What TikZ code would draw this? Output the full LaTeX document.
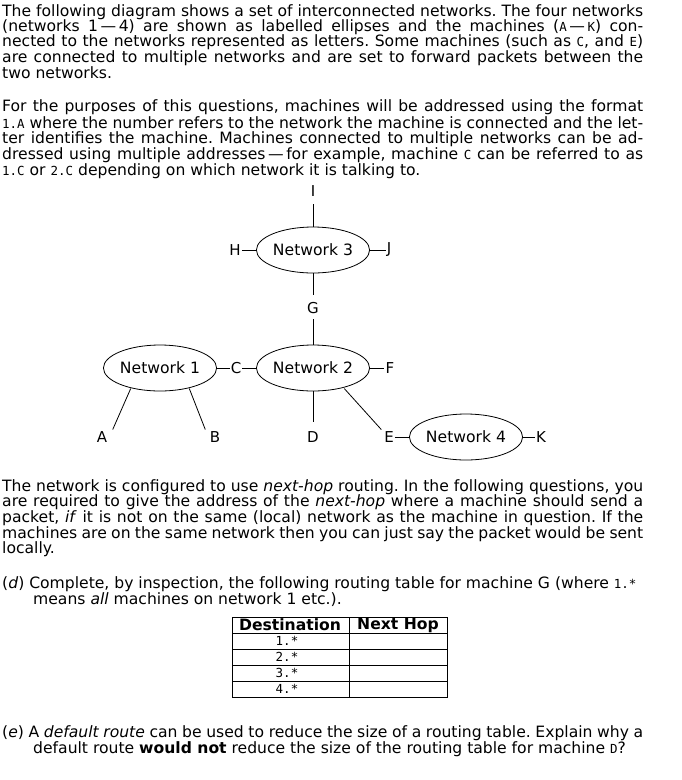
\documentclass[tikz,border=0pt]{standalone}
\usepackage{fontspec}
\setmainfont{DejaVu Sans}
\newfontfamily\mono{DejaVu Sans Mono}[Scale=0.8]
\usetikzlibrary{shapes.geometric}
\newcommand\jline[2]{\hbox to #1pt{#2}}
\newcommand\mm[1]{{\mono #1}}
\frenchspacing
\begin{document}
\begin{tikzpicture}[x=1pt,y=-1pt,
  txt/.style={anchor=west,inner sep=0pt,font=\fontsize{15.6}{17}\selectfont},
  net/.style={draw,ellipse,minimum width=96pt,minimum height=46pt,inner sep=0pt,line width=0.8pt,font=\fontsize{15.6}{17}\selectfont},
  mach/.style={inner sep=1pt,font=\fontsize{15}{17}\selectfont},
  ln/.style={draw,line width=0.8pt}]
\useasboundingbox (0,0) rectangle (682,780);
\fill[white] (0,0) rectangle (682,780);
% paragraph 1
\node[txt] (p1) at (2,12) {\jline{641}{The following diagram shows a set of interconnected networks. The four networks}};
\node[txt] (p2) at (2,27) {\jline{641}{(networks 1\,---\,4) are shown as labelled ellipses and the machines (\mm{A}\,---\,\mm{K}) con-}};
\node[txt] (p3) at (2,42) {\jline{641}{nected to the networks represented as letters. Some machines (such as \mm{C}, and \mm{E})}};
\node[txt] (p4) at (2,58) {\jline{641}{are connected to multiple networks and are set to forward packets between the}};
\node[txt] (p5) at (2,73) {two networks.};
% paragraph 2
\node[txt] (q1) at (2,107) {\jline{641}{For the purposes of this questions, machines will be addressed using the format}};
\node[txt] (q2) at (2,123) {\jline{641}{\mm{1.A} where the number refers to the network the machine is connected and the let-}};
\node[txt] (q3) at (2,139) {\jline{641}{ter identifies the machine. Machines connected to multiple networks can be ad-}};
\node[txt] (q4) at (2,155) {\jline{641}{dressed using multiple addresses\,---\,for example, machine \mm{C} can be referred to as}};
\node[txt] (q5) at (2,171) {\mm{1.C} or \mm{2.C} depending on which network it is talking to.};
% diagram
\node[net] (n3) at (313,250) {Network 3};
\node[net] (n2) at (313,368) {Network 2};
\node[net] (n1) at (160,368) {Network 1};
\node[net] (n4) at (466,437) {Network 4};
\node[mach] (I) at (313,191) {I};
\node[mach] (H) at (235,250) {H};
\node[mach] (J) at (389,250) {J};
\node[mach] (G) at (313,308) {G};
\node[mach] (C) at (236,368) {C};
\node[mach] (F) at (390,368) {F};
\node[mach] (A) at (102,437) {A};
\node[mach] (B) at (215,437) {B};
\node[mach] (D) at (313,437) {D};
\node[mach] (E) at (389,437) {E};
\node[mach] (K) at (541,437) {K};
\coordinate (i1) at (313,204);
\draw[ln] (i1) -- (n3);
\draw[ln] (H) -- (n3);
\draw[ln] (n3) -- (J);
\draw[ln] (n3.south) -- ++(0,22);
\draw[ln] (n2.north) -- ++(0,-26);
\draw[ln] (n1) -- (C) -- (n2);
\draw[ln] (n2) -- (F);
\draw[ln] (n1.south west) ++(11,4) coordinate (a1) -- ++(-18,41);
\draw[ln] (n1.south east) ++(-11,4) coordinate (b1) -- ++(16,41);
\draw[ln] (n2.south) -- ++(0,31);
\draw[ln] (n2.south east) ++(-9,4) -- ++(37,41);
\draw[ln] (E) -- (n4);
\draw[ln] (n4) -- (K);
% paragraph 3
\node[txt] (r1) at (2,487) {\jline{641}{The network is configured to use \emph{next-hop} routing. In the following questions, you}};
\node[txt] (r2) at (2,502) {\jline{641}{are required to give the address of the \emph{next-hop} where a machine should send a}};
\node[txt] (r3) at (2,518) {\jline{641}{packet, \emph{if} it is not on the same (local) network as the machine in question. If the}};
\node[txt] (r4) at (2,534) {\jline{641}{machines are on the same network then you can just say the packet would be sent}};
\node[txt] (r5) at (2,549) {locally.};
% (d)
\node[txt] (d1) at (2,584) {(\emph{d}) Complete, by inspection, the following routing table for machine G (where \mm{1.*}};
\node[txt] (d2) at (33,600) {means \emph{all} machines on network 1 etc.).};
% table
\draw[line width=0.9pt] (232,617) rectangle (447,697);
\foreach \yy in {633,649,665,681} \draw[line width=0.9pt] (232,\yy) -- (447,\yy);
\draw[line width=0.9pt] (349,617) -- (349,697);
\node[font=\fontsize{15.6}{17}\selectfont\bfseries,inner sep=0pt] (h1) at (290,625) {Destination};
\node[font=\fontsize{15.6}{17}\selectfont\bfseries,inner sep=0pt] (h2) at (398,625) {Next Hop};
\node[inner sep=0pt,font=\fontsize{15.6}{17}\selectfont] (t1) at (287,641) {\mm{1.*}};
\node[inner sep=0pt,font=\fontsize{15.6}{17}\selectfont] (t2) at (287,657) {\mm{2.*}};
\node[inner sep=0pt,font=\fontsize{15.6}{17}\selectfont] (t3) at (287,673) {\mm{3.*}};
\node[inner sep=0pt,font=\fontsize{15.6}{17}\selectfont] (t4) at (287,689) {\mm{4.*}};
% (e)
\node[txt] (e1) at (2,733) {\jline{641}{(\emph{e}) A \emph{default route} can be used to reduce the size of a routing table. Explain why a}};
\node[txt] (e2) at (33,749) {default route \textbf{would not} reduce the size of the routing table for machine \mm{D}?};
\end{tikzpicture}
\end{document}
